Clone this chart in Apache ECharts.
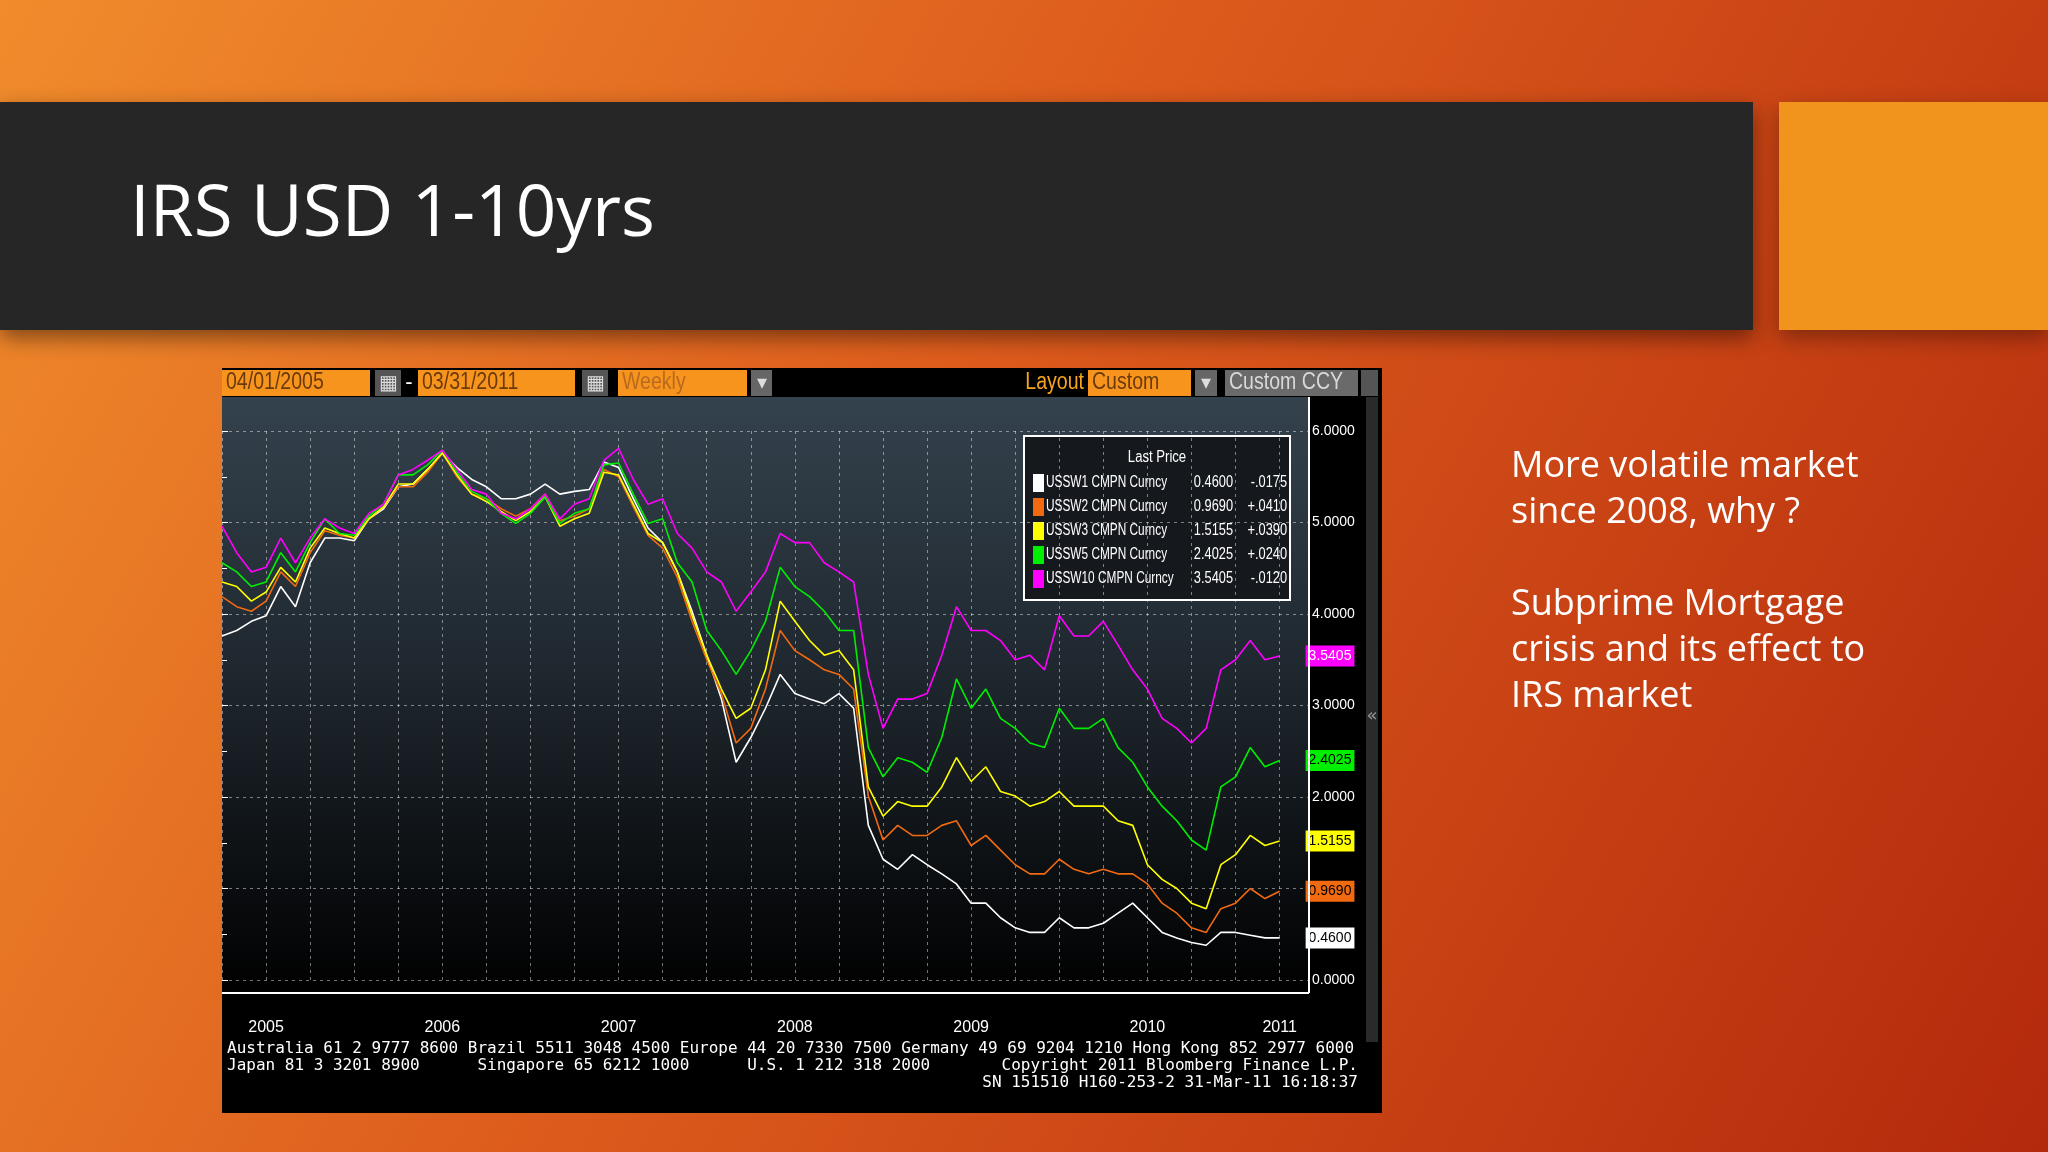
<!DOCTYPE html>
<html>
<head>
<meta charset="utf-8" />
<title>IRS USD 1-10yrs</title>
<script src="https://cdn.jsdelivr.net/npm/echarts@6/dist/echarts.min.js"></script>
<style>
  html, body { margin: 0; padding: 0; }
  #main { width: 2048px; height: 1152px; }
</style>
</head>
<body>
<div id="main"></div>
<script>
// month index 0 = Apr 2005 ... 72 = end of Mar 2011
var yearTicks = { 3: '2005', 15: '2006', 27: '2007', 39: '2008', 51: '2009', 63: '2010', 72: '2011' };

var names = ['USSW1 CMPN Curncy', 'USSW2 CMPN Curncy', 'USSW3 CMPN Curncy', 'USSW5 CMPN Curncy', 'USSW10 CMPN Curncy'];
var lastPrice = ['0.4600', '0.9690', '1.5155', '2.4025', '3.5405'];
var change = ['-.0175', '+.0410', '+.0390', '+.0240', '-.0120'];
var colors = ['#ffffff', '#f26a10', '#ffff00', '#00ee00', '#ff00ff'];
var labelText = ['#000', '#000', '#000', '#000', '#fff'];

var sw1 = [3.76,3.82,3.92,3.98,4.30,4.08,4.56,4.83,4.83,4.80,5.04,
  5.15,5.39,5.42,5.58,5.76,5.60,5.47,5.39,5.26,5.26,
  5.31,5.42,5.31,5.34,5.36,5.66,5.60,5.26,4.94,4.78,
  4.46,4.03,3.55,3.07,2.38,2.65,2.97,3.34,3.13,3.07,
  3.02,3.13,2.97,1.69,1.32,1.21,1.37,1.26,1.16,1.05,
  0.84,0.84,0.68,0.57,0.52,0.52,0.68,0.57,0.57,0.62,
  0.73,0.84,0.68,0.52,0.46,0.41,0.38,0.52,0.52,0.49,0.46,0.46];
var sw2 = [4.19,4.08,4.03,4.14,4.46,4.30,4.67,4.91,4.86,4.83,5.04,
  5.17,5.39,5.39,5.55,5.76,5.50,5.31,5.26,5.15,5.07,
  5.15,5.31,5.02,5.07,5.15,5.58,5.50,5.17,4.86,4.72,
  4.40,3.92,3.50,3.13,2.59,2.75,3.18,3.82,3.60,3.50,
  3.39,3.34,3.18,2.01,1.53,1.69,1.58,1.58,1.69,1.74,
  1.47,1.58,1.42,1.26,1.16,1.16,1.32,1.21,1.16,1.21,
  1.16,1.16,1.05,0.84,0.73,0.57,0.52,0.78,0.84,1.00,0.89,0.97];
var sw3 = [4.35,4.30,4.14,4.24,4.51,4.35,4.72,4.94,4.88,4.83,5.04,
  5.17,5.42,5.42,5.58,5.76,5.52,5.31,5.23,5.12,5.02,
  5.12,5.28,4.96,5.04,5.10,5.55,5.52,5.20,4.88,4.78,
  4.46,3.98,3.55,3.18,2.86,2.97,3.39,4.14,3.92,3.71,
  3.55,3.60,3.39,2.11,1.79,1.95,1.90,1.90,2.11,2.43,
  2.17,2.33,2.06,2.01,1.90,1.95,2.06,1.90,1.90,1.90,
  1.74,1.69,1.26,1.10,1.00,0.84,0.78,1.26,1.37,1.58,1.47,1.52];
var sw5 = [4.56,4.46,4.30,4.35,4.67,4.46,4.78,5.04,4.88,4.86,5.07,
  5.20,5.52,5.52,5.63,5.79,5.55,5.34,5.26,5.10,4.99,
  5.10,5.28,4.99,5.10,5.15,5.63,5.65,5.31,4.99,5.04,
  4.56,4.35,3.82,3.60,3.34,3.60,3.92,4.51,4.30,4.19,
  4.03,3.82,3.82,2.54,2.22,2.43,2.38,2.27,2.65,3.29,
  2.97,3.18,2.86,2.75,2.59,2.54,2.97,2.75,2.75,2.86,
  2.54,2.38,2.11,1.90,1.74,1.53,1.42,2.11,2.22,2.54,2.33,2.40];
var sw10 = [4.96,4.67,4.46,4.51,4.83,4.56,4.83,5.04,4.94,4.88,5.10,
  5.20,5.52,5.58,5.68,5.79,5.58,5.36,5.31,5.10,5.04,
  5.15,5.31,5.04,5.20,5.26,5.68,5.81,5.47,5.20,5.26,
  4.88,4.72,4.46,4.35,4.03,4.24,4.46,4.88,4.78,4.78,
  4.56,4.46,4.35,3.34,2.75,3.07,3.07,3.13,3.55,4.08,
  3.82,3.82,3.71,3.50,3.55,3.39,3.98,3.76,3.76,3.92,
  3.66,3.39,3.18,2.86,2.75,2.59,2.75,3.39,3.50,3.71,3.50,3.54];
var allSeries = [sw1, sw2, sw3, sw5, sw10];

var chart = echarts.init(document.getElementById('main'));
var narrow = '"Liberation Sans"';

function pairs(arr) {
  return arr.map(function (v, i) { return [i, v]; });
}

var series = allSeries.map(function (arr, k) {
  return {
    name: names[k],
    type: 'line',
    data: pairs(arr),
    symbol: 'none',
    z: 5 + k,
    lineStyle: { color: colors[k], width: 1.6 },
    endLabel: {
      show: true,
      formatter: lastPrice[k],
      distance: 26,
      color: labelText[k],
      backgroundColor: colors[k],
      fontFamily: 'Liberation Sans',
      fontSize: 14,
      padding: [4, 3, 3, 3]
    }
  };
});

// condensed look: squeeze text horizontally around its anchor
function txt(x, y, s, font, fill, align, sx) {
  return { type: 'text', x: x, y: y, scaleX: sx || 0.82, style: { text: s, fill: fill, font: font, textAlign: align || 'left', textVerticalAlign: 'middle' } };
}

function box(x, w, fill, s, tcol, align) {
  return {
    type: 'group', children: [
      { type: 'rect', shape: { x: x, y: 370, width: w, height: 26 }, style: { fill: fill } },
      align === 'c' ? txt(x + w / 2, 383, s || '', '20px ' + narrow, tcol, 'center', 1)
        : txt(x + 4, 383, s || '', '23px ' + narrow, tcol, 'left', 0.85)
    ]
  };
}

var legendFont = '16px ' + narrow;
var legendChildren = [
  { type: 'rect', shape: { x: 1024, y: 436, width: 266, height: 164 }, style: { fill: '#15191d', stroke: '#ffffff', lineWidth: 2 } },
  txt(1157, 458, 'Last Price', legendFont, '#fff', 'center')
];
names.forEach(function (n, k) {
  var y = 483 + k * 24;
  legendChildren.push({ type: 'rect', shape: { x: 1033, y: y - 9, width: 11, height: 18 }, style: { fill: colors[k] } });
  legendChildren.push(txt(1046, y, n, legendFont, '#fff', 'left', 0.74));
  legendChildren.push(txt(1233, y, lastPrice[k], legendFont, '#fff', 'right', 0.8));
  legendChildren.push(txt(1287, y, change[k], legendFont, '#fff', 'right', 0.8));
});

var mono = '16px "DejaVu Sans Mono"';

chart.setOption({
  backgroundColor: {
    type: 'linear', x: 0, y: 0, x2: 1, y2: 1,
    colorStops: [{ offset: 0, color: '#f08c2c' }, { offset: 0.45, color: '#dc5a1c' }, { offset: 1, color: '#b3290c' }]
  },
  animation: false,
  graphic: [
    { type: 'rect', z: -10, shape: { x: 0, y: 102, width: 1753, height: 228 }, style: { fill: '#262626', shadowBlur: 20, shadowColor: 'rgba(0,0,0,0.45)', shadowOffsetY: 8 } },
    { type: 'rect', z: -10, shape: { x: 1779, y: 102, width: 269, height: 228 }, style: { fill: '#f0941e', shadowBlur: 20, shadowColor: 'rgba(0,0,0,0.35)', shadowOffsetY: 8 } },
    { type: 'text', z: -9, x: 130, y: 216, style: { text: 'IRS USD 1-10yrs', fill: '#ffffff', font: '71px "Open Sans"', textVerticalAlign: 'middle' } },
    { type: 'text', z: -9, left: 1511, top: 444, style: { text: 'More volatile market\nsince 2008, why ?\n\nSubprime Mortgage\ncrisis and its effect to\nIRS market', fill: '#ffffff', font: '36px "Open Sans"', lineHeight: 46 } },
    { type: 'rect', z: -8, shape: { x: 222, y: 368, width: 1160, height: 745 }, style: { fill: '#000000' } },
    { type: 'rect', z: -7, shape: { x: 222, y: 397, width: 1087, height: 596 },
      style: { fill: { type: 'linear', x: 0, y: 0, x2: 0, y2: 1, colorStops: [{ offset: 0, color: '#34424d' }, { offset: 0.5, color: '#1d252c' }, { offset: 1, color: '#000000' }] } } },
    { type: 'line', z: 20, shape: { x1: 222, y1: 993, x2: 1309, y2: 993 }, style: { stroke: '#ffffff', lineWidth: 2 } },
    { type: 'line', z: 20, shape: { x1: 1309, y1: 397, x2: 1309, y2: 993 }, style: { stroke: '#ffffff', lineWidth: 2 } },
    { type: 'rect', z: -6, shape: { x: 1366, y: 397, width: 12, height: 645 }, style: { fill: '#2a2a2a' } },
    { type: 'text', z: -5, x: 1372, y: 716, style: { text: '«', fill: '#999', font: '18px "DejaVu Sans"', textAlign: 'center', textVerticalAlign: 'middle' } },
    box(222, 148, '#f7941d', '04/01/2005', '#6b3a0c'),
    box(375, 26, '#555', '▦', '#ddd', 'c'),
    txt(409, 383, '-', '22px ' + narrow, '#fff', 'center', 1),
    box(418, 157, '#f7941d', '03/31/2011', '#6b3a0c'),
    box(582, 26, '#555', '▦', '#ddd', 'c'),
    box(618, 129, '#f7941d', 'Weekly', '#b86a20'),
    box(751, 21, '#666', '▾', '#ddd', 'c'),
    txt(1084, 383, 'Layout', '23px ' + narrow, '#f7a51d', 'right', 0.85),
    box(1088, 103, '#f7941d', 'Custom', '#6b3a0c'),
    box(1195, 22, '#666', '▾', '#ddd', 'c'),
    box(1225, 133, '#6a6a6a', 'Custom CCY', '#d8d8d8'),
    box(1361, 17, '#555', '', '#ddd'),
    { type: 'text', x: 227, y: 1049, style: { text: 'Australia 61 2 9777 8600 Brazil 5511 3048 4500 Europe 44 20 7330 7500 Germany 49 69 9204 1210 Hong Kong 852 2977 6000', fill: '#fff', font: mono, textVerticalAlign: 'middle' } },
    { type: 'text', x: 227, y: 1066, style: { text: 'Japan 81 3 3201 8900      Singapore 65 6212 1000      U.S. 1 212 318 2000', fill: '#fff', font: mono, textVerticalAlign: 'middle' } },
    { type: 'text', x: 1358, y: 1066, style: { text: 'Copyright 2011 Bloomberg Finance L.P.', fill: '#fff', font: mono, textAlign: 'right', textVerticalAlign: 'middle' } },
    { type: 'text', x: 1358, y: 1083, style: { text: 'SN 151510 H160-253-2 31-Mar-11 16:18:37', fill: '#fff', font: mono, textAlign: 'right', textVerticalAlign: 'middle' } },
    { type: 'group', z: 30, children: legendChildren }
  ],
  grid: { left: 222, right: 739, top: 431, bottom: 172 },
  xAxis: {
    type: 'value', min: 0, max: 74, interval: 3,
    axisLine: { show: false },
    axisTick: { show: false },
    splitLine: { show: true, lineStyle: { color: 'rgba(255,255,255,0.45)', type: [3, 4], width: 1 } },
    axisLabel: {
      margin: 40, color: '#fff', fontFamily: 'Liberation Sans', fontSize: 16,
      showMaxLabel: false,
      formatter: function (v) { return yearTicks[v] || ''; }
    }
  },
  yAxis: {
    type: 'value', position: 'right', min: 0, max: 6, interval: 1,
    axisLine: { show: false },
    axisTick: { show: true, length: 6, lineStyle: { color: '#fff' } },
    minorTick: { show: true, splitNumber: 2, length: 5, lineStyle: { color: '#fff' } },
    splitLine: { show: true, lineStyle: { color: 'rgba(255,255,255,0.45)', type: [3, 4], width: 1 } },
    axisLabel: {
      margin: 3, color: '#fff', fontFamily: 'Liberation Sans', fontSize: 14,
      formatter: function (v) { return v === 1 ? '' : v.toFixed(4); }
    }
  },
  series: series
});
</script>
</body>
</html>
